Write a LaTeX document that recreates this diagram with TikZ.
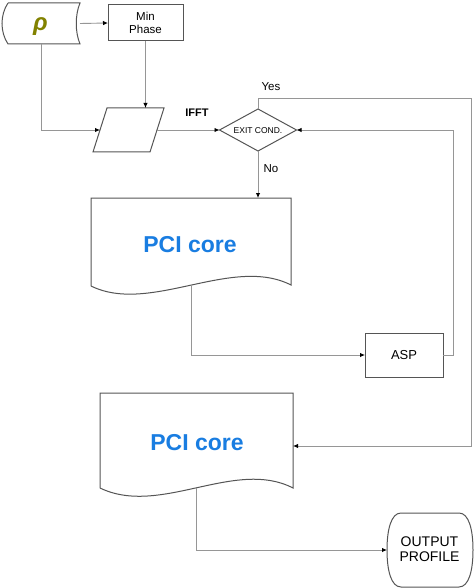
\documentclass[tikz,border=0pt]{standalone}
\usepackage{fontspec}
\setmainfont{Liberation Sans}
\usetikzlibrary{arrows.meta}
\definecolor{conncol}{RGB}{150,150,150}
\definecolor{shapecol}{RGB}{85,85,85}
\definecolor{pciblue}{RGB}{25,125,225}
\definecolor{rhocol}{RGB}{130,130,0}
\begin{document}
\begin{tikzpicture}[x=1pt,y=-1pt,
  conn/.style={draw=conncol,line width=0.9pt},
  arr/.style={-{Latex[color=black,length=5pt,width=4.5pt]}},
  outline/.style={draw=shapecol,line width=1pt},
  frame/.style={draw=none,inner sep=0pt,outer sep=0pt},
  box/.style={draw=shapecol,line width=1pt,inner sep=0pt,outer sep=0pt,align=center},
  lbl/.style={inner sep=0pt,outer sep=0pt,align=center}]
\useasboundingbox (0,0) rectangle (474,588);
\fill[white] (0,0) rectangle (474,588);

% rho (stored data)
\node[frame,minimum width=78pt,minimum height=41pt] (rho) at (41,23.5) {};
\draw[outline] (8,3) -- (80,3) .. controls (75,15) and (75,32) .. (80,44) -- (8,44) .. controls (0,32) and (0,15) .. (8,3);
\node[lbl,text=rhocol,font=\fontsize{24}{24}\selectfont\bfseries\itshape] (rhotext) at (40.5,26.5) {ρ};

% Min Phase
\node[box,minimum width=75pt,minimum height=36pt,font=\fontsize{11.5}{12.5}\selectfont] (minphase) at (145.5,23) {Min\\Phase};

% parallelogram (IFFT)
\node[frame,minimum width=57pt,minimum height=44pt] (ifftp) at (128.5,130) {};
\draw[outline] (107,108) -- (164,108) -- (150,152) -- (93,152) -- cycle;
\node[lbl,font=\fontsize{11}{11}\selectfont\bfseries] (ifftlbl) at (197,113) {IFFT};

% exit condition diamond
\node[frame,minimum width=77pt,minimum height=42pt] (exit) at (258,130) {};
\draw[outline] (exit.west) -- (exit.north) -- (exit.east) -- (exit.south) -- cycle;
\node[lbl,font=\fontsize{8.5}{8.5}\selectfont] (exittext) at (258,131) {EXIT COND.};
\node[lbl,font=\fontsize{11.5}{11.5}\selectfont] (yeslbl) at (271,87) {Yes};
\node[lbl,font=\fontsize{11.5}{11.5}\selectfont] (nolbl) at (271,169) {No};

% PCI core 1
\node[frame,minimum width=200pt,minimum height=87pt] (pci1) at (191,241.5) {};
\draw[outline] (91,286) -- (91,198) -- (291,198) -- (291,285) .. controls (232,255) and (150,315) .. (91,286);
\node[lbl,text=pciblue,font=\fontsize{23}{23}\selectfont\bfseries] (pci1text) at (190,245) {PCI core};

% ASP
\node[box,minimum width=78pt,minimum height=44pt,font=\fontsize{13}{13}\selectfont] (asp) at (404,355) {ASP};

% PCI core 2
\node[frame,minimum width=193pt,minimum height=95pt] (pci2) at (196.5,440.5) {};
\draw[outline] (100,488) -- (100,393) -- (293,393) -- (293,488) .. controls (235,458) and (160,517) .. (100,488);
\node[lbl,text=pciblue,font=\fontsize{23}{23}\selectfont\bfseries] (pci2text) at (197,443) {PCI core};

% OUTPUT PROFILE
\node[frame,minimum width=87pt,minimum height=74pt] (out) at (430.5,550) {};
\draw[outline] (401,513) -- (459,513) .. controls (469,513) and (473,530) .. (473,550) .. controls (473,570) and (469,587) .. (459,587) -- (401,587) .. controls (391,587) and (387,570) .. (387,550) .. controls (387,530) and (391,513) .. (401,513);
\node[lbl,font=\fontsize{14}{15}\selectfont] (outtext) at (429.5,549.5) {OUTPUT\\PROFILE};

% helper coordinates
\coordinate (yes1) at (471,98);
\coordinate (yes2) at (471,446);
\coordinate (loop) at (453,355);

% connectors
\draw[conn,arr] (rho.east) -- (minphase.west);
\draw[conn,arr] (minphase.south) -- (minphase.south |- ifftp.north);
\draw[conn,arr] (rho.south) |- (ifftp.west);
\draw[conn,arr] (ifftp.east) -- (exit.west);
\draw[conn,arr] (exit.north) |- (yes1) -- (yes2) -- (yes2 -| pci2.east);
\draw[conn,arr] (exit.south) -- (exit.south |- pci1.north);
\draw[conn,arr] (pci1.south) |- (asp.west);
\draw[conn,arr] (asp.east) -- (loop) |- (exit.east);
\draw[conn,arr] (pci2.south) |- (out.west);
\end{tikzpicture}
\end{document}
